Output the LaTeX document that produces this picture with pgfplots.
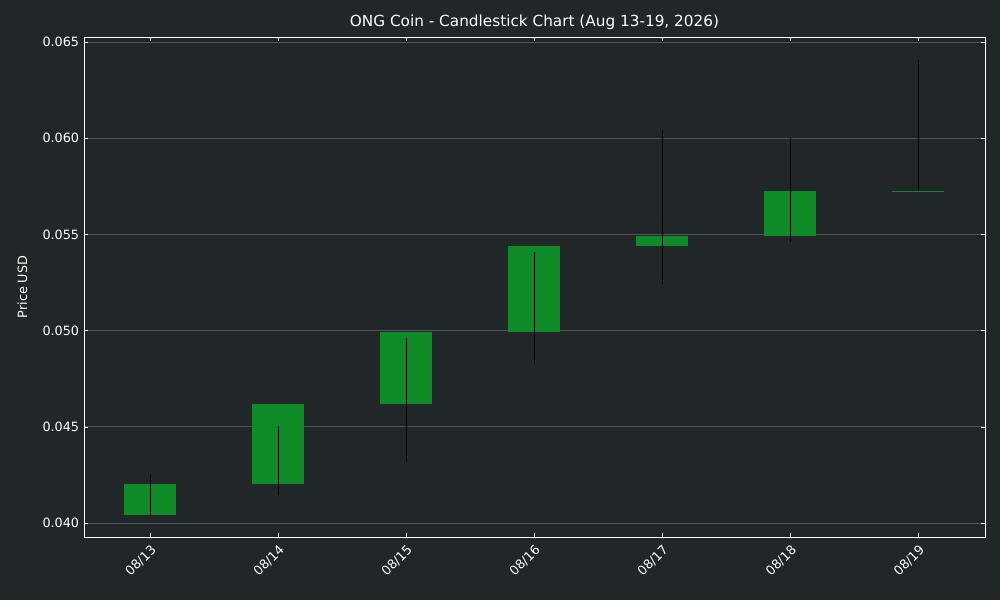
\documentclass[border=0pt]{standalone}
\usepackage{fontspec}
\setmainfont{DejaVu Sans}
\usepackage{pgfplots}
\pgfplotsset{compat=1.18}
\definecolor{bg}{HTML}{212629}
\definecolor{gridc}{HTML}{4F5555}
\definecolor{candle}{HTML}{0E8A26}
\begin{document}
\begin{tikzpicture}
\fill[bg] (-60.48pt,-45.36pt) rectangle (659.52pt,386.64pt);
\begin{axis}[
  scale only axis, width=648.7pt, height=360pt,
  xmin=-0.516, xmax=6.52, ymin=0.03927, ymax=0.06526,
  xtick={0,...,6},
  xticklabels={08/13,08/14,08/15,08/16,08/17,08/18,08/19},
  x tick label style={rotate=45, anchor=north east, font=\fontsize{9.2}{10}\selectfont, text=white},
  ytick={0.040,0.045,0.050,0.055,0.060,0.065},
  yticklabel style={/pgf/number format/.cd, fixed, fixed zerofill, precision=3, /tikz/.cd, font=\fontsize{9.2}{10}\selectfont, text=white},
  /pgf/number format/assume math mode=true,
  scaled y ticks=false,
  ymajorgrids, grid style={gridc, line width=0.6pt},
  axis line style={white}, tick style={white},
  major tick length=3pt,
  axis background/.style={fill=bg},
  ylabel={Price USD}, ylabel style={text=white, font=\fontsize{9.2}{10}\selectfont, yshift=4pt},
  title={ONG Coin - Candlestick Chart (Aug 13-19, 2026)},
  title style={text=white, font=\fontsize{11}{13}\selectfont, yshift=-4pt},
  unbounded coords=jump,
]
\addplot[candle, line width=37.4pt, line cap=butt] coordinates {
 (0,0.04043) (0,0.04203) (0,nan)
 (1,0.04200) (1,0.04618) (1,nan)
 (2,0.04618) (2,0.04993) (2,nan)
 (3,0.04993) (3,0.05440) (3,nan)
 (4,0.05440) (4,0.05492) (4,nan)
 (5,0.05492) (5,0.05726) (5,nan)
 (6,0.05718) (6,0.05728)
};
\addplot[black, line width=0.8pt] coordinates {
 (0,0.0404) (0,0.04255) (0,nan)
 (1,0.04145) (1,0.04504) (1,nan)
 (2,0.04317) (2,0.04962) (2,nan)
 (3,0.04832) (3,0.05409) (3,nan)
 (4,0.05242) (4,0.06043) (4,nan)
 (5,0.05460) (5,0.06000) (5,nan)
 (6,0.05726) (6,0.06406)
};
\end{axis}
\end{tikzpicture}
\end{document}
